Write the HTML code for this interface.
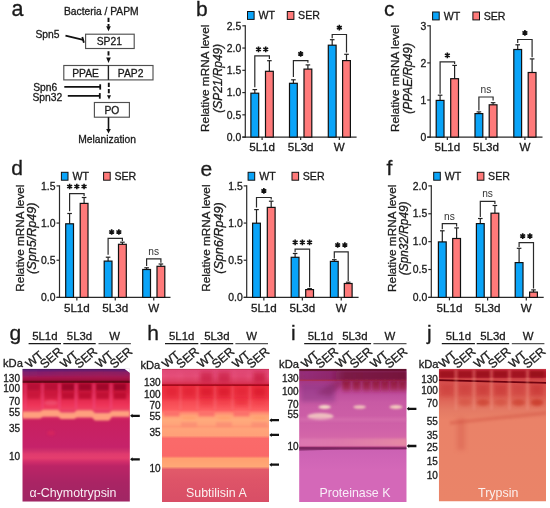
<!DOCTYPE html>
<html><head><meta charset="utf-8"><style>
html,body{margin:0;padding:0;background:#fff;}
svg{display:block;filter:blur(0.3px);}
text{font-family:"Liberation Sans", sans-serif;}
text.k{stroke:#1a1a1a;stroke-width:0.3px;}
</style></head><body>
<svg width="550" height="508" viewBox="0 0 550 508">
<defs><filter id="bl05" x="-20%" y="-50%" width="140%" height="200%"><feGaussianBlur stdDeviation="0.5"/></filter><filter id="bl1" x="-50%" y="-50%" width="200%" height="200%"><feGaussianBlur stdDeviation="0.9"/></filter><filter id="bl15" x="-50%" y="-50%" width="200%" height="200%"><feGaussianBlur stdDeviation="1.4"/></filter><filter id="bl2" x="-50%" y="-50%" width="200%" height="200%"><feGaussianBlur stdDeviation="2"/></filter><clipPath id="cG"><rect x="22.3" y="368.7" width="107.60000000000001" height="133.0"/></clipPath><linearGradient id="gG" gradientUnits="userSpaceOnUse" x1="0" y1="368.7" x2="0" y2="501.7"><stop offset="0.0000" stop-color="#3a1050"/><stop offset="0.0120" stop-color="#6a1a68"/><stop offset="0.0286" stop-color="#941a58"/><stop offset="0.0624" stop-color="#a81850"/><stop offset="0.0865" stop-color="#9c0e3e"/><stop offset="0.0940" stop-color="#640818"/><stop offset="0.1030" stop-color="#640818"/><stop offset="0.1105" stop-color="#c81640"/><stop offset="0.1752" stop-color="#d01a40"/><stop offset="0.2353" stop-color="#e42a50"/><stop offset="0.2729" stop-color="#ee3458"/><stop offset="0.3030" stop-color="#ee4062"/><stop offset="0.3331" stop-color="#e03868"/><stop offset="0.3707" stop-color="#d02462"/><stop offset="0.3932" stop-color="#c8205f"/><stop offset="0.5887" stop-color="#c6226a"/><stop offset="0.6188" stop-color="#d0306c"/><stop offset="0.6414" stop-color="#e03a6e"/><stop offset="0.6714" stop-color="#e43e6e"/><stop offset="0.7015" stop-color="#d02c6a"/><stop offset="0.7316" stop-color="#bc2466"/><stop offset="0.8519" stop-color="#aa2464"/><stop offset="1.0000" stop-color="#a02664"/></linearGradient><linearGradient id="gGp" gradientUnits="userSpaceOnUse" x1="22.3" y1="0" x2="129.9" y2="0"><stop offset="0.0000" stop-color="#5a2aa0" stop-opacity="0.3"/><stop offset="0.3504" stop-color="#5a2aa0" stop-opacity="0.18"/><stop offset="0.7221" stop-color="#5a2aa0" stop-opacity="0.1"/><stop offset="1.0000" stop-color="#5a2aa0" stop-opacity="0.15"/></linearGradient><clipPath id="cH"><rect x="162.0" y="368.7" width="107.0" height="133.3"/></clipPath><linearGradient id="gH" gradientUnits="userSpaceOnUse" x1="0" y1="368.7" x2="0" y2="502.0"><stop offset="0.0000" stop-color="#b01838"/><stop offset="0.0098" stop-color="#e04a78"/><stop offset="0.0548" stop-color="#e8527e"/><stop offset="0.0923" stop-color="#e04468"/><stop offset="0.1148" stop-color="#d83050"/><stop offset="0.1200" stop-color="#a20c1c"/><stop offset="0.1260" stop-color="#a20c1c"/><stop offset="0.1320" stop-color="#ee3040"/><stop offset="0.2198" stop-color="#f03848"/><stop offset="0.2498" stop-color="#f64a54"/><stop offset="0.3098" stop-color="#fc5c60"/><stop offset="0.3323" stop-color="#ff8a72"/><stop offset="0.3548" stop-color="#ffa478"/><stop offset="0.3848" stop-color="#ffaa7c"/><stop offset="0.4149" stop-color="#ffa47a"/><stop offset="0.4336" stop-color="#ff9a76"/><stop offset="0.4524" stop-color="#ffa47a"/><stop offset="0.5011" stop-color="#ffa078"/><stop offset="0.5236" stop-color="#fa6a6a"/><stop offset="0.6549" stop-color="#fa6868"/><stop offset="0.6737" stop-color="#ffa070"/><stop offset="0.7337" stop-color="#ffa876"/><stop offset="0.7562" stop-color="#e25a6a"/><stop offset="0.8350" stop-color="#de5468"/><stop offset="1.0000" stop-color="#d84e66"/></linearGradient><clipPath id="cI"><rect x="299.1" y="368.7" width="107.59999999999997" height="133.3"/></clipPath><linearGradient id="gI" gradientUnits="userSpaceOnUse" x1="0" y1="368.7" x2="0" y2="502.0"><stop offset="0.0000" stop-color="#581028"/><stop offset="0.0143" stop-color="#6a1838"/><stop offset="0.0218" stop-color="#983080"/><stop offset="0.0773" stop-color="#963078"/><stop offset="0.0863" stop-color="#b03050"/><stop offset="0.0960" stop-color="#a83a88"/><stop offset="0.1748" stop-color="#bc4c9c"/><stop offset="0.2498" stop-color="#c85aa4"/><stop offset="0.4599" stop-color="#d062a8"/><stop offset="0.5784" stop-color="#d86aa8"/><stop offset="0.5859" stop-color="#b04080"/><stop offset="0.5926" stop-color="#8e2c6c"/><stop offset="0.6017" stop-color="#8e2c6c"/><stop offset="0.6099" stop-color="#cc62b4"/><stop offset="0.7599" stop-color="#d468b8"/><stop offset="1.0000" stop-color="#d468b8"/></linearGradient><linearGradient id="gIr" gradientUnits="userSpaceOnUse" x1="299.1" y1="0" x2="406.7" y2="0"><stop offset="0.0000" stop-color="#701030" stop-opacity="0.05"/><stop offset="0.2872" stop-color="#701030" stop-opacity="0.2"/><stop offset="0.4266" stop-color="#701030" stop-opacity="0.7"/><stop offset="1.0000" stop-color="#701030" stop-opacity="0.85"/></linearGradient><linearGradient id="gIb" x1="0" y1="0" x2="0" y2="1"><stop offset="0" stop-color="#8a1232" stop-opacity="0.95"/><stop offset="0.6" stop-color="#9a1a3a" stop-opacity="0.7"/><stop offset="1" stop-color="#a02040" stop-opacity="0"/></linearGradient><linearGradient id="gIl" gradientUnits="userSpaceOnUse" x1="299.1" y1="0" x2="406.7" y2="0"><stop offset="0.0000" stop-color="#e890c0" stop-opacity="0.35"/><stop offset="0.3801" stop-color="#e890b0" stop-opacity="0.4"/><stop offset="1.0000" stop-color="#f0a0a0" stop-opacity="0.6"/></linearGradient><clipPath id="cJ"><rect x="438.8" y="368.7" width="107.19999999999999" height="132.8"/></clipPath><linearGradient id="gJ" gradientUnits="userSpaceOnUse" x1="0" y1="368.7" x2="0" y2="501.5"><stop offset="0.0000" stop-color="#d04050"/><stop offset="0.0120" stop-color="#c02838"/><stop offset="0.0248" stop-color="#b41c2c"/><stop offset="0.0625" stop-color="#b01a2a"/><stop offset="0.0730" stop-color="#d04448"/><stop offset="0.0821" stop-color="#d04448"/><stop offset="0.1039" stop-color="#d85250"/><stop offset="0.1980" stop-color="#dc5c52"/><stop offset="0.3110" stop-color="#e47a64"/><stop offset="0.3863" stop-color="#ea8268"/><stop offset="1.0000" stop-color="#ea8468"/></linearGradient></defs>
<text class="k" x="11.5" y="15.8" font-size="21.5" text-anchor="start" fill="#1a1a1a" >a</text>
<text class="k" x="101.3" y="15.4" font-size="10.3" text-anchor="middle" fill="#1a1a1a" >Bacteria / PAPM</text>
<line x1="108.5" y1="17.8" x2="108.5" y2="26.5" stroke="#111" stroke-width="1.9" stroke-dasharray="4.2,2.1"/>
<path d="M106.2,26.3 L110.8,26.3 L108.5,31.3 Z" fill="#111"/>
<text class="k" x="35.5" y="37.9" font-size="10.3" text-anchor="start" fill="#1a1a1a" >Spn5</text>
<line x1="65.5" y1="35.6" x2="83.2" y2="39.9" stroke="#111" stroke-width="1.8" />
<line x1="82.3" y1="36.9" x2="83.9" y2="42.8" stroke="#111" stroke-width="1.8" />
<rect x="85.6" y="34.2" width="48.6" height="14.3" fill="none" stroke="#505050" stroke-width="1.15"/>
<text class="k" x="109.3" y="45.4" font-size="10.3" text-anchor="middle" fill="#1a1a1a" >SP21</text>
<line x1="108.5" y1="51.2" x2="108.5" y2="57.6" stroke="#111" stroke-width="1.9" stroke-dasharray="4.2,2.1"/>
<path d="M106.2,57.6 L110.8,57.6 L108.5,63.0 Z" fill="#111"/>
<rect x="63.8" y="65.5" width="89.2" height="14.4" fill="none" stroke="#505050" stroke-width="1.15"/>
<line x1="108.4" y1="65.5" x2="108.4" y2="79.9" stroke="#222" stroke-width="1.4" />
<text class="k" x="85.6" y="77.4" font-size="10.3" text-anchor="middle" fill="#1a1a1a" >PPAE</text>
<text class="k" x="130.6" y="77.4" font-size="10.3" text-anchor="middle" fill="#1a1a1a" >PAP2</text>
<text class="k" x="33.2" y="90.6" font-size="10.3" text-anchor="start" fill="#1a1a1a" >Spn6</text>
<text class="k" x="32.5" y="101.0" font-size="10.3" text-anchor="start" fill="#1a1a1a" >Spn32</text>
<line x1="64.3" y1="86.8" x2="100.2" y2="86.8" stroke="#111" stroke-width="1.8" />
<line x1="100.2" y1="84.3" x2="100.2" y2="89.6" stroke="#111" stroke-width="1.8" />
<line x1="67.8" y1="95.8" x2="99.8" y2="95.8" stroke="#111" stroke-width="1.8" />
<line x1="99.8" y1="93.1" x2="99.8" y2="98.7" stroke="#111" stroke-width="1.8" />
<line x1="108.8" y1="82.8" x2="108.8" y2="95.3" stroke="#111" stroke-width="1.9" stroke-dasharray="4.2,2.1"/>
<path d="M107.0,95.3 L111.0,95.3 L109.0,99.5 Z" fill="#111"/>
<rect x="94.4" y="102.5" width="35" height="14.7" fill="none" stroke="#505050" stroke-width="1.15"/>
<text class="k" x="111.9" y="114.2" font-size="10.3" text-anchor="middle" fill="#1a1a1a" >PO</text>
<line x1="108.5" y1="117.2" x2="108.5" y2="129.5" stroke="#111" stroke-width="1.6" />
<path d="M106.2,129.0 L110.8,129.0 L108.5,133.4 Z" fill="#111"/>
<text class="k" x="107.1" y="143.0" font-size="10.3" text-anchor="middle" fill="#1a1a1a" >Melanization</text>
<text class="k" x="196.0" y="15.6" font-size="21" text-anchor="start" fill="#1a1a1a" >b</text>
<rect x="247.5" y="11.5" width="6.6" height="7.9" fill="#0aa4f8" stroke="#111" stroke-width="1"/>
<text class="k" x="258.6" y="19.1" font-size="10.6" text-anchor="start" fill="#1a1a1a" >WT</text>
<rect x="287.3" y="11.5" width="6.6" height="7.9" fill="#ff7a7a" stroke="#111" stroke-width="1"/>
<text class="k" x="298.1" y="19.1" font-size="10.6" text-anchor="start" fill="#1a1a1a" >SER</text>
<text transform="translate(208.8,78.3) rotate(-90)" font-size="11.78" text-anchor="middle" fill="#1a1a1a" class="k">Relative mRNA level</text>
<text transform="translate(221.7,78.3) rotate(-90)" font-size="11.9" text-anchor="middle" fill="#1a1a1a" class="k" font-style="italic">(SP21/Rp49)</text>
<line x1="245.3" y1="25.2" x2="245.3" y2="137.7" stroke="#2a2a2a" stroke-width="1.2" />
<line x1="242.3" y1="137.1" x2="356.6" y2="137.1" stroke="#2a2a2a" stroke-width="1.2" />
<line x1="242.3" y1="137.1" x2="245.3" y2="137.1" stroke="#2a2a2a" stroke-width="1.2" />
<text class="k" x="241.3" y="140.79999999999998" font-size="10.4" text-anchor="end" fill="#1a1a1a" >0.0</text>
<line x1="242.3" y1="114.84" x2="245.3" y2="114.84" stroke="#2a2a2a" stroke-width="1.2" />
<text class="k" x="241.3" y="118.54" font-size="10.4" text-anchor="end" fill="#1a1a1a" >0.5</text>
<line x1="242.3" y1="92.58" x2="245.3" y2="92.58" stroke="#2a2a2a" stroke-width="1.2" />
<text class="k" x="241.3" y="96.28" font-size="10.4" text-anchor="end" fill="#1a1a1a" >1.0</text>
<line x1="242.3" y1="70.32" x2="245.3" y2="70.32" stroke="#2a2a2a" stroke-width="1.2" />
<text class="k" x="241.3" y="74.02" font-size="10.4" text-anchor="end" fill="#1a1a1a" >1.5</text>
<line x1="242.3" y1="48.06" x2="245.3" y2="48.06" stroke="#2a2a2a" stroke-width="1.2" />
<text class="k" x="241.3" y="51.760000000000005" font-size="10.4" text-anchor="end" fill="#1a1a1a" >2.0</text>
<line x1="242.3" y1="25.799999999999997" x2="245.3" y2="25.799999999999997" stroke="#2a2a2a" stroke-width="1.2" />
<text class="k" x="241.3" y="29.499999999999996" font-size="10.4" text-anchor="end" fill="#1a1a1a" >2.5</text>
<line x1="254.8" y1="93.2" x2="254.8" y2="89.6" stroke="#222" stroke-width="1.2" />
<line x1="252.5" y1="89.6" x2="257.1" y2="89.6" stroke="#222" stroke-width="1.2" />
<rect x="250.9" y="93.2" width="7.8" height="43.89999999999999" fill="#0aa4f8" stroke="#111" stroke-width="1.2"/>
<line x1="269.4" y1="71.3" x2="269.4" y2="60.7" stroke="#222" stroke-width="1.2" />
<line x1="267.09999999999997" y1="60.7" x2="271.7" y2="60.7" stroke="#222" stroke-width="1.2" />
<rect x="265.5" y="71.3" width="7.8" height="65.8" fill="#ff7a7a" stroke="#111" stroke-width="1.2"/>
<line x1="262.1" y1="137.1" x2="262.1" y2="140.1" stroke="#2a2a2a" stroke-width="1.2" />
<text class="k" x="262.1" y="151.4" font-size="11.6" text-anchor="middle" fill="#1a1a1a" >5L1d</text>
<path d="M254.8,87.2 L254.8,55.9 L269.4,55.9 L269.4,58.9" fill="none" stroke="#2a2a2a" stroke-width="1.2"/>
<path d="M258.50,52.15L258.50,46.45M256.03,50.72L260.97,47.88M260.97,50.72L256.03,47.88" stroke="#111" stroke-width="1.6" fill="none"/>
<path d="M265.70,52.15L265.70,46.45M263.23,50.72L268.17,47.88M268.17,50.72L263.23,47.88" stroke="#111" stroke-width="1.6" fill="none"/>
<line x1="293.4" y1="83.3" x2="293.4" y2="79.8" stroke="#222" stroke-width="1.2" />
<line x1="291.09999999999997" y1="79.8" x2="295.7" y2="79.8" stroke="#222" stroke-width="1.2" />
<rect x="289.5" y="83.3" width="7.8" height="53.8" fill="#0aa4f8" stroke="#111" stroke-width="1.2"/>
<line x1="307.9" y1="69.1" x2="307.9" y2="64.9" stroke="#222" stroke-width="1.2" />
<line x1="305.59999999999997" y1="64.9" x2="310.2" y2="64.9" stroke="#222" stroke-width="1.2" />
<rect x="304.0" y="69.1" width="7.8" height="68.0" fill="#ff7a7a" stroke="#111" stroke-width="1.2"/>
<line x1="300.65" y1="137.1" x2="300.65" y2="140.1" stroke="#2a2a2a" stroke-width="1.2" />
<text class="k" x="300.65" y="151.4" font-size="11.6" text-anchor="middle" fill="#1a1a1a" >5L3d</text>
<path d="M293.4,77.0 L293.4,60.6 L307.9,60.6 L307.9,62.8" fill="none" stroke="#2a2a2a" stroke-width="1.2"/>
<path d="M300.65,56.75L300.65,51.05M298.18,55.32L303.12,52.48M303.12,55.32L298.18,52.48" stroke="#111" stroke-width="1.6" fill="none"/>
<line x1="332.2" y1="45.2" x2="332.2" y2="39.7" stroke="#222" stroke-width="1.2" />
<line x1="329.9" y1="39.7" x2="334.5" y2="39.7" stroke="#222" stroke-width="1.2" />
<rect x="328.3" y="45.2" width="7.8" height="91.89999999999999" fill="#0aa4f8" stroke="#111" stroke-width="1.2"/>
<line x1="346.5" y1="60.6" x2="346.5" y2="54.3" stroke="#222" stroke-width="1.2" />
<line x1="344.2" y1="54.3" x2="348.8" y2="54.3" stroke="#222" stroke-width="1.2" />
<rect x="342.6" y="60.6" width="7.8" height="76.5" fill="#ff7a7a" stroke="#111" stroke-width="1.2"/>
<line x1="339.35" y1="137.1" x2="339.35" y2="140.1" stroke="#2a2a2a" stroke-width="1.2" />
<text class="k" x="339.35" y="151.4" font-size="11.6" text-anchor="middle" fill="#1a1a1a" >W</text>
<path d="M332.2,38.2 L332.2,34.5 L346.5,34.5 L346.5,52.6" fill="none" stroke="#2a2a2a" stroke-width="1.2"/>
<path d="M339.35,30.55L339.35,24.85M336.88,29.12L341.82,26.27M341.82,29.12L336.88,26.27" stroke="#111" stroke-width="1.6" fill="none"/>
<text class="k" x="384.0" y="15.6" font-size="21" text-anchor="start" fill="#1a1a1a" >c</text>
<rect x="432.6" y="12.0" width="6.6" height="7.9" fill="#0aa4f8" stroke="#111" stroke-width="1"/>
<text class="k" x="443.70000000000005" y="19.6" font-size="10.6" text-anchor="start" fill="#1a1a1a" >WT</text>
<rect x="472.9" y="12.0" width="6.6" height="7.9" fill="#ff7a7a" stroke="#111" stroke-width="1"/>
<text class="k" x="483.7" y="19.6" font-size="10.6" text-anchor="start" fill="#1a1a1a" >SER</text>
<text transform="translate(398.9,78.4) rotate(-90)" font-size="11.78" text-anchor="middle" fill="#1a1a1a" class="k">Relative mRNA level</text>
<text transform="translate(411.7,78.4) rotate(-90)" font-size="11.9" text-anchor="middle" fill="#1a1a1a" class="k" font-style="italic">(PPAE/Rp49)</text>
<line x1="430.2" y1="25.2" x2="430.2" y2="137.7" stroke="#2a2a2a" stroke-width="1.2" />
<line x1="427.2" y1="137.1" x2="542.5" y2="137.1" stroke="#2a2a2a" stroke-width="1.2" />
<line x1="427.2" y1="137.1" x2="430.2" y2="137.1" stroke="#2a2a2a" stroke-width="1.2" />
<text class="k" x="426.2" y="140.79999999999998" font-size="10.4" text-anchor="end" fill="#1a1a1a" >0</text>
<line x1="427.2" y1="100.0" x2="430.2" y2="100.0" stroke="#2a2a2a" stroke-width="1.2" />
<text class="k" x="426.2" y="103.7" font-size="10.4" text-anchor="end" fill="#1a1a1a" >1</text>
<line x1="427.2" y1="62.89999999999999" x2="430.2" y2="62.89999999999999" stroke="#2a2a2a" stroke-width="1.2" />
<text class="k" x="426.2" y="66.6" font-size="10.4" text-anchor="end" fill="#1a1a1a" >2</text>
<line x1="427.2" y1="25.799999999999997" x2="430.2" y2="25.799999999999997" stroke="#2a2a2a" stroke-width="1.2" />
<text class="k" x="426.2" y="29.499999999999996" font-size="10.4" text-anchor="end" fill="#1a1a1a" >3</text>
<line x1="440.1" y1="100.4" x2="440.1" y2="95.2" stroke="#222" stroke-width="1.2" />
<line x1="437.8" y1="95.2" x2="442.40000000000003" y2="95.2" stroke="#222" stroke-width="1.2" />
<rect x="436.20000000000005" y="100.4" width="7.8" height="36.69999999999999" fill="#0aa4f8" stroke="#111" stroke-width="1.2"/>
<line x1="454.6" y1="78.7" x2="454.6" y2="65.4" stroke="#222" stroke-width="1.2" />
<line x1="452.3" y1="65.4" x2="456.90000000000003" y2="65.4" stroke="#222" stroke-width="1.2" />
<rect x="450.70000000000005" y="78.7" width="7.8" height="58.39999999999999" fill="#ff7a7a" stroke="#111" stroke-width="1.2"/>
<line x1="447.35" y1="137.1" x2="447.35" y2="140.1" stroke="#2a2a2a" stroke-width="1.2" />
<text class="k" x="447.35" y="151.4" font-size="11.6" text-anchor="middle" fill="#1a1a1a" >5L1d</text>
<path d="M440.1,93.8 L440.1,61.9 L454.6,61.9 L454.6,64.0" fill="none" stroke="#2a2a2a" stroke-width="1.2"/>
<path d="M447.35,58.15L447.35,52.45M444.88,56.72L449.82,53.88M449.82,56.72L444.88,53.88" stroke="#111" stroke-width="1.6" fill="none"/>
<line x1="478.9" y1="113.6" x2="478.9" y2="111.9" stroke="#222" stroke-width="1.2" />
<line x1="476.59999999999997" y1="111.9" x2="481.2" y2="111.9" stroke="#222" stroke-width="1.2" />
<rect x="475.0" y="113.6" width="7.8" height="23.5" fill="#0aa4f8" stroke="#111" stroke-width="1.2"/>
<line x1="493.1" y1="104.8" x2="493.1" y2="102.7" stroke="#222" stroke-width="1.2" />
<line x1="490.8" y1="102.7" x2="495.40000000000003" y2="102.7" stroke="#222" stroke-width="1.2" />
<rect x="489.20000000000005" y="104.8" width="7.8" height="32.3" fill="#ff7a7a" stroke="#111" stroke-width="1.2"/>
<line x1="486.0" y1="137.1" x2="486.0" y2="140.1" stroke="#2a2a2a" stroke-width="1.2" />
<text class="k" x="486.0" y="151.4" font-size="11.6" text-anchor="middle" fill="#1a1a1a" >5L3d</text>
<path d="M478.9,110.6 L478.9,97.0 L493.1,97.0 L493.1,100.5" fill="none" stroke="#2a2a2a" stroke-width="1.2"/>
<text x="486.0" y="92.8" font-size="10.2" text-anchor="middle" fill="#333" >ns</text>
<line x1="517.7" y1="49.5" x2="517.7" y2="44.8" stroke="#222" stroke-width="1.2" />
<line x1="515.4000000000001" y1="44.8" x2="520.0" y2="44.8" stroke="#222" stroke-width="1.2" />
<rect x="513.8000000000001" y="49.5" width="7.8" height="87.6" fill="#0aa4f8" stroke="#111" stroke-width="1.2"/>
<line x1="532.1" y1="72.5" x2="532.1" y2="58.9" stroke="#222" stroke-width="1.2" />
<line x1="529.8000000000001" y1="58.9" x2="534.4" y2="58.9" stroke="#222" stroke-width="1.2" />
<rect x="528.2" y="72.5" width="7.8" height="64.6" fill="#ff7a7a" stroke="#111" stroke-width="1.2"/>
<line x1="524.9000000000001" y1="137.1" x2="524.9000000000001" y2="140.1" stroke="#2a2a2a" stroke-width="1.2" />
<text class="k" x="524.9000000000001" y="151.4" font-size="11.6" text-anchor="middle" fill="#1a1a1a" >W</text>
<path d="M517.7,43.0 L517.7,39.5 L532.1,39.5 L532.1,57.2" fill="none" stroke="#2a2a2a" stroke-width="1.2"/>
<path d="M524.90,35.75L524.90,30.05M522.43,34.32L527.37,31.47M527.37,34.32L522.43,31.47" stroke="#111" stroke-width="1.6" fill="none"/>
<text class="k" x="11.3" y="175.0" font-size="21" text-anchor="start" fill="#1a1a1a" >d</text>
<rect x="61.4" y="172.3" width="6.6" height="7.9" fill="#0aa4f8" stroke="#111" stroke-width="1"/>
<text class="k" x="72.5" y="179.9" font-size="10.6" text-anchor="start" fill="#1a1a1a" >WT</text>
<rect x="103.6" y="172.3" width="6.6" height="7.9" fill="#ff7a7a" stroke="#111" stroke-width="1"/>
<text class="k" x="114.39999999999999" y="179.9" font-size="10.6" text-anchor="start" fill="#1a1a1a" >SER</text>
<text transform="translate(23.5,238.2) rotate(-90)" font-size="11.78" text-anchor="middle" fill="#1a1a1a" class="k">Relative mRNA level</text>
<text transform="translate(36.1,238.2) rotate(-90)" font-size="12.6" text-anchor="middle" fill="#1a1a1a" class="k" font-style="italic">(Spn5/Rp49)</text>
<line x1="59.5" y1="185.3" x2="59.5" y2="298.0" stroke="#2a2a2a" stroke-width="1.2" />
<line x1="56.5" y1="297.4" x2="170.5" y2="297.4" stroke="#2a2a2a" stroke-width="1.2" />
<line x1="56.5" y1="297.4" x2="59.5" y2="297.4" stroke="#2a2a2a" stroke-width="1.2" />
<text class="k" x="55.5" y="301.09999999999997" font-size="10.4" text-anchor="end" fill="#1a1a1a" >0.0</text>
<line x1="56.5" y1="260.23333333333335" x2="59.5" y2="260.23333333333335" stroke="#2a2a2a" stroke-width="1.2" />
<text class="k" x="55.5" y="263.93333333333334" font-size="10.4" text-anchor="end" fill="#1a1a1a" >0.5</text>
<line x1="56.5" y1="223.06666666666666" x2="59.5" y2="223.06666666666666" stroke="#2a2a2a" stroke-width="1.2" />
<text class="k" x="55.5" y="226.76666666666665" font-size="10.4" text-anchor="end" fill="#1a1a1a" >1.0</text>
<line x1="56.5" y1="185.90000000000003" x2="59.5" y2="185.90000000000003" stroke="#2a2a2a" stroke-width="1.2" />
<text class="k" x="55.5" y="189.60000000000002" font-size="10.4" text-anchor="end" fill="#1a1a1a" >1.5</text>
<line x1="69.6" y1="223.8" x2="69.6" y2="213.5" stroke="#222" stroke-width="1.2" />
<line x1="67.3" y1="213.5" x2="71.89999999999999" y2="213.5" stroke="#222" stroke-width="1.2" />
<rect x="65.69999999999999" y="223.8" width="7.8" height="73.59999999999997" fill="#0aa4f8" stroke="#111" stroke-width="1.2"/>
<line x1="84.1" y1="203.4" x2="84.1" y2="197.5" stroke="#222" stroke-width="1.2" />
<line x1="81.8" y1="197.5" x2="86.39999999999999" y2="197.5" stroke="#222" stroke-width="1.2" />
<rect x="80.19999999999999" y="203.4" width="7.8" height="93.99999999999997" fill="#ff7a7a" stroke="#111" stroke-width="1.2"/>
<line x1="76.85" y1="297.4" x2="76.85" y2="300.4" stroke="#2a2a2a" stroke-width="1.2" />
<text class="k" x="76.85" y="311.7" font-size="11.6" text-anchor="middle" fill="#1a1a1a" >5L1d</text>
<path d="M69.6,211.3 L69.6,193.6 L84.1,193.6 L84.1,196.1" fill="none" stroke="#2a2a2a" stroke-width="1.2"/>
<path d="M69.65,189.35L69.65,183.65M67.18,187.93L72.12,185.07M72.12,187.93L67.18,185.07" stroke="#111" stroke-width="1.6" fill="none"/>
<path d="M76.85,189.35L76.85,183.65M74.38,187.93L79.32,185.07M79.32,187.93L74.38,185.07" stroke="#111" stroke-width="1.6" fill="none"/>
<path d="M84.05,189.35L84.05,183.65M81.58,187.93L86.52,185.07M86.52,187.93L81.58,185.07" stroke="#111" stroke-width="1.6" fill="none"/>
<line x1="108.1" y1="261.1" x2="108.1" y2="257.2" stroke="#222" stroke-width="1.2" />
<line x1="105.8" y1="257.2" x2="110.39999999999999" y2="257.2" stroke="#222" stroke-width="1.2" />
<rect x="104.19999999999999" y="261.1" width="7.8" height="36.299999999999955" fill="#0aa4f8" stroke="#111" stroke-width="1.2"/>
<line x1="122.4" y1="244.3" x2="122.4" y2="242.2" stroke="#222" stroke-width="1.2" />
<line x1="120.10000000000001" y1="242.2" x2="124.7" y2="242.2" stroke="#222" stroke-width="1.2" />
<rect x="118.5" y="244.3" width="7.8" height="53.099999999999966" fill="#ff7a7a" stroke="#111" stroke-width="1.2"/>
<line x1="115.25" y1="297.4" x2="115.25" y2="300.4" stroke="#2a2a2a" stroke-width="1.2" />
<text class="k" x="115.25" y="311.7" font-size="11.6" text-anchor="middle" fill="#1a1a1a" >5L3d</text>
<path d="M108.1,254.8 L108.1,238.3 L122.4,238.3 L122.4,241.0" fill="none" stroke="#2a2a2a" stroke-width="1.2"/>
<path d="M111.65,234.85L111.65,229.15M109.18,233.43L114.12,230.57M114.12,233.43L109.18,230.57" stroke="#111" stroke-width="1.6" fill="none"/>
<path d="M118.85,234.85L118.85,229.15M116.38,233.43L121.32,230.57M121.32,233.43L116.38,230.57" stroke="#111" stroke-width="1.6" fill="none"/>
<line x1="146.6" y1="269.5" x2="146.6" y2="267.8" stroke="#222" stroke-width="1.2" />
<line x1="144.29999999999998" y1="267.8" x2="148.9" y2="267.8" stroke="#222" stroke-width="1.2" />
<rect x="142.7" y="269.5" width="7.8" height="27.899999999999977" fill="#0aa4f8" stroke="#111" stroke-width="1.2"/>
<line x1="160.9" y1="266.3" x2="160.9" y2="264.0" stroke="#222" stroke-width="1.2" />
<line x1="158.6" y1="264.0" x2="163.20000000000002" y2="264.0" stroke="#222" stroke-width="1.2" />
<rect x="157.0" y="266.3" width="7.8" height="31.099999999999966" fill="#ff7a7a" stroke="#111" stroke-width="1.2"/>
<line x1="153.75" y1="297.4" x2="153.75" y2="300.4" stroke="#2a2a2a" stroke-width="1.2" />
<text class="k" x="153.75" y="311.7" font-size="11.6" text-anchor="middle" fill="#1a1a1a" >W</text>
<path d="M146.6,265.9 L146.6,258.8 L160.9,258.8 L160.9,262.8" fill="none" stroke="#2a2a2a" stroke-width="1.2"/>
<text x="153.75" y="254.5" font-size="10.2" text-anchor="middle" fill="#333" >ns</text>
<text class="k" x="200.5" y="175.5" font-size="21" text-anchor="start" fill="#1a1a1a" >e</text>
<rect x="248.1" y="172.3" width="6.6" height="7.9" fill="#0aa4f8" stroke="#111" stroke-width="1"/>
<text class="k" x="259.2" y="179.9" font-size="10.6" text-anchor="start" fill="#1a1a1a" >WT</text>
<rect x="292.0" y="172.3" width="6.6" height="7.9" fill="#ff7a7a" stroke="#111" stroke-width="1"/>
<text class="k" x="302.8" y="179.9" font-size="10.6" text-anchor="start" fill="#1a1a1a" >SER</text>
<text transform="translate(210.3,238.1) rotate(-90)" font-size="11.78" text-anchor="middle" fill="#1a1a1a" class="k">Relative mRNA level</text>
<text transform="translate(223.1,238.1) rotate(-90)" font-size="12.6" text-anchor="middle" fill="#1a1a1a" class="k" font-style="italic">(Spn6/Rp49)</text>
<line x1="246.7" y1="185.3" x2="246.7" y2="298.0" stroke="#2a2a2a" stroke-width="1.2" />
<line x1="243.7" y1="297.4" x2="358.6" y2="297.4" stroke="#2a2a2a" stroke-width="1.2" />
<line x1="243.7" y1="297.4" x2="246.7" y2="297.4" stroke="#2a2a2a" stroke-width="1.2" />
<text class="k" x="242.7" y="301.09999999999997" font-size="10.4" text-anchor="end" fill="#1a1a1a" >0.0</text>
<line x1="243.7" y1="260.23333333333335" x2="246.7" y2="260.23333333333335" stroke="#2a2a2a" stroke-width="1.2" />
<text class="k" x="242.7" y="263.93333333333334" font-size="10.4" text-anchor="end" fill="#1a1a1a" >0.5</text>
<line x1="243.7" y1="223.06666666666666" x2="246.7" y2="223.06666666666666" stroke="#2a2a2a" stroke-width="1.2" />
<text class="k" x="242.7" y="226.76666666666665" font-size="10.4" text-anchor="end" fill="#1a1a1a" >1.0</text>
<line x1="243.7" y1="185.90000000000003" x2="246.7" y2="185.90000000000003" stroke="#2a2a2a" stroke-width="1.2" />
<text class="k" x="242.7" y="189.60000000000002" font-size="10.4" text-anchor="end" fill="#1a1a1a" >1.5</text>
<line x1="256.5" y1="223.2" x2="256.5" y2="209.6" stroke="#222" stroke-width="1.2" />
<line x1="254.2" y1="209.6" x2="258.8" y2="209.6" stroke="#222" stroke-width="1.2" />
<rect x="252.6" y="223.2" width="7.8" height="74.19999999999999" fill="#0aa4f8" stroke="#111" stroke-width="1.2"/>
<line x1="271.2" y1="207.4" x2="271.2" y2="201.2" stroke="#222" stroke-width="1.2" />
<line x1="268.9" y1="201.2" x2="273.5" y2="201.2" stroke="#222" stroke-width="1.2" />
<rect x="267.3" y="207.4" width="7.8" height="89.99999999999997" fill="#ff7a7a" stroke="#111" stroke-width="1.2"/>
<line x1="263.85" y1="297.4" x2="263.85" y2="300.4" stroke="#2a2a2a" stroke-width="1.2" />
<text class="k" x="263.85" y="311.7" font-size="11.6" text-anchor="middle" fill="#1a1a1a" >5L1d</text>
<path d="M256.5,207.4 L256.5,197.5 L271.2,197.5 L271.2,199.5" fill="none" stroke="#2a2a2a" stroke-width="1.2"/>
<path d="M263.85,193.75L263.85,188.05M261.38,192.33L266.32,189.47M266.32,192.33L261.38,189.47" stroke="#111" stroke-width="1.6" fill="none"/>
<line x1="295.1" y1="257.3" x2="295.1" y2="253.5" stroke="#222" stroke-width="1.2" />
<line x1="292.8" y1="253.5" x2="297.40000000000003" y2="253.5" stroke="#222" stroke-width="1.2" />
<rect x="291.20000000000005" y="257.3" width="7.8" height="40.099999999999966" fill="#0aa4f8" stroke="#111" stroke-width="1.2"/>
<line x1="309.6" y1="289.6" x2="309.6" y2="288.6" stroke="#222" stroke-width="1.2" />
<line x1="307.3" y1="288.6" x2="311.90000000000003" y2="288.6" stroke="#222" stroke-width="1.2" />
<rect x="305.70000000000005" y="289.6" width="7.8" height="7.7999999999999545" fill="#ff7a7a" stroke="#111" stroke-width="1.2"/>
<line x1="302.35" y1="297.4" x2="302.35" y2="300.4" stroke="#2a2a2a" stroke-width="1.2" />
<text class="k" x="302.35" y="311.7" font-size="11.6" text-anchor="middle" fill="#1a1a1a" >5L3d</text>
<path d="M295.1,252.2 L295.1,249.1 L309.6,249.1 L309.6,287.2" fill="none" stroke="#2a2a2a" stroke-width="1.2"/>
<path d="M295.15,245.15L295.15,239.45M292.68,243.73L297.62,240.88M297.62,243.73L292.68,240.88" stroke="#111" stroke-width="1.6" fill="none"/>
<path d="M302.35,245.15L302.35,239.45M299.88,243.73L304.82,240.88M304.82,243.73L299.88,240.88" stroke="#111" stroke-width="1.6" fill="none"/>
<path d="M309.55,245.15L309.55,239.45M307.08,243.73L312.02,240.88M312.02,243.73L307.08,240.88" stroke="#111" stroke-width="1.6" fill="none"/>
<line x1="334.3" y1="261.4" x2="334.3" y2="259.7" stroke="#222" stroke-width="1.2" />
<line x1="332.0" y1="259.7" x2="336.6" y2="259.7" stroke="#222" stroke-width="1.2" />
<rect x="330.40000000000003" y="261.4" width="7.8" height="36.0" fill="#0aa4f8" stroke="#111" stroke-width="1.2"/>
<line x1="348.2" y1="283.5" x2="348.2" y2="282.2" stroke="#222" stroke-width="1.2" />
<line x1="345.9" y1="282.2" x2="350.5" y2="282.2" stroke="#222" stroke-width="1.2" />
<rect x="344.3" y="283.5" width="7.8" height="13.899999999999977" fill="#ff7a7a" stroke="#111" stroke-width="1.2"/>
<line x1="341.25" y1="297.4" x2="341.25" y2="300.4" stroke="#2a2a2a" stroke-width="1.2" />
<text class="k" x="341.25" y="311.7" font-size="11.6" text-anchor="middle" fill="#1a1a1a" >W</text>
<path d="M334.3,258.4 L334.3,251.8 L348.2,251.8 L348.2,281.0" fill="none" stroke="#2a2a2a" stroke-width="1.2"/>
<path d="M337.65,247.85L337.65,242.15M335.18,246.43L340.12,243.57M340.12,246.43L335.18,243.57" stroke="#111" stroke-width="1.6" fill="none"/>
<path d="M344.85,247.85L344.85,242.15M342.38,246.43L347.32,243.57M347.32,246.43L342.38,243.57" stroke="#111" stroke-width="1.6" fill="none"/>
<text class="k" x="386.5" y="175.0" font-size="21" text-anchor="start" fill="#1a1a1a" >f</text>
<rect x="433.7" y="172.3" width="6.6" height="7.9" fill="#0aa4f8" stroke="#111" stroke-width="1"/>
<text class="k" x="444.8" y="179.9" font-size="10.6" text-anchor="start" fill="#1a1a1a" >WT</text>
<rect x="477.3" y="172.3" width="6.6" height="7.9" fill="#ff7a7a" stroke="#111" stroke-width="1"/>
<text class="k" x="488.1" y="179.9" font-size="10.6" text-anchor="start" fill="#1a1a1a" >SER</text>
<text transform="translate(395.6,238.3) rotate(-90)" font-size="11.78" text-anchor="middle" fill="#1a1a1a" class="k">Relative mRNA level</text>
<text transform="translate(408.3,238.3) rotate(-90)" font-size="11.85" text-anchor="middle" fill="#1a1a1a" class="k" font-style="italic">(Spn32/Rp49)</text>
<line x1="431.3" y1="185.3" x2="431.3" y2="298.0" stroke="#2a2a2a" stroke-width="1.2" />
<line x1="428.3" y1="297.4" x2="543.7" y2="297.4" stroke="#2a2a2a" stroke-width="1.2" />
<line x1="428.3" y1="297.4" x2="431.3" y2="297.4" stroke="#2a2a2a" stroke-width="1.2" />
<text class="k" x="427.3" y="301.09999999999997" font-size="10.4" text-anchor="end" fill="#1a1a1a" >0.0</text>
<line x1="428.3" y1="269.525" x2="431.3" y2="269.525" stroke="#2a2a2a" stroke-width="1.2" />
<text class="k" x="427.3" y="273.22499999999997" font-size="10.4" text-anchor="end" fill="#1a1a1a" >0.5</text>
<line x1="428.3" y1="241.64999999999998" x2="431.3" y2="241.64999999999998" stroke="#2a2a2a" stroke-width="1.2" />
<text class="k" x="427.3" y="245.34999999999997" font-size="10.4" text-anchor="end" fill="#1a1a1a" >1.0</text>
<line x1="428.3" y1="213.775" x2="431.3" y2="213.775" stroke="#2a2a2a" stroke-width="1.2" />
<text class="k" x="427.3" y="217.475" font-size="10.4" text-anchor="end" fill="#1a1a1a" >1.5</text>
<line x1="428.3" y1="185.9" x2="431.3" y2="185.9" stroke="#2a2a2a" stroke-width="1.2" />
<text class="k" x="427.3" y="189.6" font-size="10.4" text-anchor="end" fill="#1a1a1a" >2.0</text>
<line x1="442.3" y1="241.9" x2="442.3" y2="230.8" stroke="#222" stroke-width="1.2" />
<line x1="440.0" y1="230.8" x2="444.6" y2="230.8" stroke="#222" stroke-width="1.2" />
<rect x="438.40000000000003" y="241.9" width="7.8" height="55.49999999999997" fill="#0aa4f8" stroke="#111" stroke-width="1.2"/>
<line x1="456.6" y1="238.5" x2="456.6" y2="227.9" stroke="#222" stroke-width="1.2" />
<line x1="454.3" y1="227.9" x2="458.90000000000003" y2="227.9" stroke="#222" stroke-width="1.2" />
<rect x="452.70000000000005" y="238.5" width="7.8" height="58.89999999999998" fill="#ff7a7a" stroke="#111" stroke-width="1.2"/>
<line x1="449.45000000000005" y1="297.4" x2="449.45000000000005" y2="300.4" stroke="#2a2a2a" stroke-width="1.2" />
<text class="k" x="449.45000000000005" y="311.7" font-size="11.6" text-anchor="middle" fill="#1a1a1a" >5L1d</text>
<path d="M442.3,229.2 L442.3,223.6 L456.6,223.6 L456.6,226.6" fill="none" stroke="#2a2a2a" stroke-width="1.2"/>
<text x="449.45000000000005" y="219.9" font-size="10.2" text-anchor="middle" fill="#333" >ns</text>
<line x1="480.3" y1="223.6" x2="480.3" y2="218.5" stroke="#222" stroke-width="1.2" />
<line x1="478.0" y1="218.5" x2="482.6" y2="218.5" stroke="#222" stroke-width="1.2" />
<rect x="476.40000000000003" y="223.6" width="7.8" height="73.79999999999998" fill="#0aa4f8" stroke="#111" stroke-width="1.2"/>
<line x1="494.9" y1="213.2" x2="494.9" y2="205.5" stroke="#222" stroke-width="1.2" />
<line x1="492.59999999999997" y1="205.5" x2="497.2" y2="205.5" stroke="#222" stroke-width="1.2" />
<rect x="491.0" y="213.2" width="7.8" height="84.19999999999999" fill="#ff7a7a" stroke="#111" stroke-width="1.2"/>
<line x1="487.6" y1="297.4" x2="487.6" y2="300.4" stroke="#2a2a2a" stroke-width="1.2" />
<text class="k" x="487.6" y="311.7" font-size="11.6" text-anchor="middle" fill="#1a1a1a" >5L3d</text>
<path d="M480.3,217.0 L480.3,201.4 L494.9,201.4 L494.9,204.0" fill="none" stroke="#2a2a2a" stroke-width="1.2"/>
<text x="487.6" y="197.2" font-size="10.2" text-anchor="middle" fill="#333" >ns</text>
<line x1="519.1" y1="262.6" x2="519.1" y2="248.3" stroke="#222" stroke-width="1.2" />
<line x1="516.8000000000001" y1="248.3" x2="521.4" y2="248.3" stroke="#222" stroke-width="1.2" />
<rect x="515.2" y="262.6" width="7.8" height="34.799999999999955" fill="#0aa4f8" stroke="#111" stroke-width="1.2"/>
<line x1="533.5" y1="292.1" x2="533.5" y2="289.9" stroke="#222" stroke-width="1.2" />
<line x1="531.2" y1="289.9" x2="535.8" y2="289.9" stroke="#222" stroke-width="1.2" />
<rect x="529.6" y="292.1" width="7.8" height="5.2999999999999545" fill="#ff7a7a" stroke="#111" stroke-width="1.2"/>
<line x1="526.3" y1="297.4" x2="526.3" y2="300.4" stroke="#2a2a2a" stroke-width="1.2" />
<text class="k" x="526.3" y="311.7" font-size="11.6" text-anchor="middle" fill="#1a1a1a" >W</text>
<path d="M519.1,247.0 L519.1,242.7 L533.5,242.7 L533.5,288.4" fill="none" stroke="#2a2a2a" stroke-width="1.2"/>
<path d="M522.70,238.95L522.70,233.25M520.23,237.53L525.17,234.67M525.17,237.53L520.23,234.67" stroke="#111" stroke-width="1.6" fill="none"/>
<path d="M529.90,238.95L529.90,233.25M527.43,237.53L532.37,234.67M532.37,237.53L527.43,234.67" stroke="#111" stroke-width="1.6" fill="none"/>
<g clip-path="url(#cG)">
<rect x="22.3" y="368.7" width="107.60000000000001" height="133.0" fill="url(#gG)"/>
<rect x="22.3" y="369.2" width="107.60000000000001" height="7" fill="url(#gGp)" filter="url(#bl1)"/>
<rect x="27.25" y="383.5" width="12.5" height="7.0" fill="#900020" opacity="0.35" filter="url(#bl1)"/>
<rect x="44.75" y="383.5" width="12.5" height="7.0" fill="#900020" opacity="0.3" filter="url(#bl1)"/>
<rect x="61.75" y="383.5" width="12.5" height="7.0" fill="#900020" opacity="0.75" filter="url(#bl1)"/>
<rect x="78.75" y="383.5" width="12.5" height="7.0" fill="#900020" opacity="0.75" filter="url(#bl1)"/>
<rect x="96.25" y="383.5" width="12.5" height="7.0" fill="#900020" opacity="0.7" filter="url(#bl1)"/>
<rect x="113.75" y="383.5" width="12.5" height="7.0" fill="#900020" opacity="0.8" filter="url(#bl1)"/>
<rect x="27.25" y="392.5" width="12.5" height="6.5" fill="#a80020" opacity="0.3" filter="url(#bl1)"/>
<rect x="44.75" y="392.5" width="12.5" height="6.5" fill="#a80020" opacity="0.25" filter="url(#bl1)"/>
<rect x="61.75" y="392.5" width="12.5" height="6.5" fill="#a80020" opacity="0.55" filter="url(#bl1)"/>
<rect x="78.75" y="392.5" width="12.5" height="6.5" fill="#a80020" opacity="0.55" filter="url(#bl1)"/>
<rect x="96.25" y="392.5" width="12.5" height="6.5" fill="#a80020" opacity="0.5" filter="url(#bl1)"/>
<rect x="113.75" y="392.5" width="12.5" height="6.5" fill="#a80020" opacity="0.6" filter="url(#bl1)"/>
<rect x="24.1" y="383.5" width="2.4" height="25.5" fill="#f04880" opacity="0.55" filter="url(#bl1)"/>
<rect x="41.199999999999996" y="383.5" width="2.4" height="25.5" fill="#f04880" opacity="0.55" filter="url(#bl1)"/>
<rect x="58.3" y="383.5" width="2.4" height="25.5" fill="#f04880" opacity="0.55" filter="url(#bl1)"/>
<rect x="74.8" y="383.5" width="2.4" height="25.5" fill="#f04880" opacity="0.55" filter="url(#bl1)"/>
<rect x="92.8" y="383.5" width="2.4" height="25.5" fill="#f04880" opacity="0.55" filter="url(#bl1)"/>
<rect x="109.8" y="383.5" width="2.4" height="25.5" fill="#f04880" opacity="0.55" filter="url(#bl1)"/>
<path d="M22.3,411.4 L22.3,411.4 L40,411.4 L43,409.7 L58,409.7 L61,412.4 L74,412.4 L77,410.3 L92,410.3 L95,413 L109,413 L112,410.8 L129.9,410.8 L129.9,416.8 L112,416.8 L109,420.6 L95,420.6 L92,417.4 L77,417.4 L74,419 L61,419 L58,416.8 L43,416.8 L40,418.4 L22.3,418.4 Z" fill="#ffa07e" filter="url(#bl1)"/>
<ellipse cx="51" cy="403" rx="7" ry="2.5" fill="#f05878" opacity="0.6" filter="url(#bl1)"/>
<ellipse cx="51" cy="433" rx="4" ry="2.5" fill="#e02858" opacity="0.5" filter="url(#bl1)"/>
<path d="M124,368.5 L130,368.5 L130,373 Z" fill="#fff" filter="url(#bl05)"/>
</g>
<g clip-path="url(#cH)">
<rect x="162.0" y="368.7" width="107.0" height="133.3" fill="url(#gH)"/>
<rect x="165.0" y="372" width="13" height="11" fill="#c01030" opacity="0.05" filter="url(#bl2)"/>
<rect x="182.5" y="372" width="13" height="11" fill="#c01030" opacity="0.1" filter="url(#bl2)"/>
<rect x="200.0" y="372" width="13" height="11" fill="#c01030" opacity="0.55" filter="url(#bl2)"/>
<rect x="217.5" y="372" width="13" height="11" fill="#c01030" opacity="0.55" filter="url(#bl2)"/>
<rect x="235.0" y="372" width="13" height="11" fill="#c01030" opacity="0.15" filter="url(#bl2)"/>
<rect x="253.0" y="372" width="13" height="11" fill="#c01030" opacity="0.6" filter="url(#bl2)"/>
<rect x="165.0" y="387" width="13" height="10" fill="#d01020" opacity="0.35" filter="url(#bl2)"/>
<rect x="182.5" y="387" width="13" height="10" fill="#d01020" opacity="0.35" filter="url(#bl2)"/>
<rect x="200.0" y="387" width="13" height="10" fill="#d01020" opacity="0.55" filter="url(#bl2)"/>
<rect x="217.5" y="387" width="13" height="10" fill="#d01020" opacity="0.55" filter="url(#bl2)"/>
<rect x="235.0" y="387" width="13" height="10" fill="#d01020" opacity="0.3" filter="url(#bl2)"/>
<rect x="253.0" y="387" width="13" height="10" fill="#d01020" opacity="0.55" filter="url(#bl2)"/>
<rect x="200.0" y="399" width="13" height="6" fill="#e01828" opacity="0.3" filter="url(#bl2)"/>
<rect x="217.5" y="399" width="13" height="6" fill="#e01828" opacity="0.2" filter="url(#bl2)"/>
<rect x="235.0" y="399" width="13" height="6" fill="#e01828" opacity="0.45" filter="url(#bl2)"/>
<rect x="253.0" y="399" width="13" height="6" fill="#e01828" opacity="0.2" filter="url(#bl2)"/>
<rect x="179.4" y="386" width="2.2" height="24" fill="#f88088" opacity="0.3" filter="url(#bl1)"/>
<rect x="196.4" y="386" width="2.2" height="24" fill="#f88088" opacity="0.3" filter="url(#bl1)"/>
<rect x="213.9" y="386" width="2.2" height="24" fill="#f88088" opacity="0.3" filter="url(#bl1)"/>
<rect x="231.4" y="386" width="2.2" height="24" fill="#f88088" opacity="0.3" filter="url(#bl1)"/>
<rect x="248.9" y="386" width="2.2" height="24" fill="#f88088" opacity="0.3" filter="url(#bl1)"/>
<rect x="163.5" y="411" width="16" height="5.5" fill="#fc6a6a" opacity="0.8" filter="url(#bl1)"/>
<rect x="198.5" y="411" width="16" height="5.5" fill="#fc6a6a" opacity="0.8" filter="url(#bl1)"/>
<rect x="233.5" y="411" width="16" height="5.5" fill="#fc6a6a" opacity="0.8" filter="url(#bl1)"/>
<ellipse cx="189" cy="418" rx="7" ry="1.6" fill="#ff9c66" opacity="0.6" filter="url(#bl1)"/>
<rect x="181" y="422" width="16" height="5" fill="#f88070" opacity="0.45" filter="url(#bl1)"/>
<ellipse cx="224" cy="418" rx="7" ry="1.6" fill="#ff9c66" opacity="0.6" filter="url(#bl1)"/>
<rect x="216" y="422" width="16" height="5" fill="#f88070" opacity="0.45" filter="url(#bl1)"/>
<ellipse cx="259.5" cy="418" rx="7" ry="1.6" fill="#ff9c66" opacity="0.6" filter="url(#bl1)"/>
<rect x="251.5" y="422" width="16" height="5" fill="#f88070" opacity="0.45" filter="url(#bl1)"/>
</g>
<g clip-path="url(#cI)">
<rect x="299.1" y="368.7" width="107.59999999999997" height="133.3" fill="url(#gI)"/>
<rect x="299.1" y="370.8" width="107.59999999999997" height="9.5" fill="url(#gIr)" filter="url(#bl1)"/>
<path d="M316,393 L336,381 L346,381 L330,396 Z" fill="#8a1e50" opacity="0.55" filter="url(#bl2)"/>
<rect x="342.3" y="380.5" width="8.4" height="13" fill="url(#gIb)" filter="url(#bl15)"/>
<rect x="352.3" y="380.5" width="8.4" height="13" fill="url(#gIb)" filter="url(#bl15)"/>
<rect x="362.3" y="380.5" width="8.4" height="13" fill="url(#gIb)" filter="url(#bl15)"/>
<rect x="371.8" y="380.5" width="8.4" height="13" fill="url(#gIb)" filter="url(#bl15)"/>
<rect x="380.8" y="380.5" width="8.4" height="13" fill="url(#gIb)" filter="url(#bl15)"/>
<rect x="389.8" y="380.5" width="8.4" height="13" fill="url(#gIb)" filter="url(#bl15)"/>
<rect x="398.3" y="380.5" width="8.4" height="13" fill="url(#gIb)" filter="url(#bl15)"/>
<rect x="301" y="384" width="34" height="18" fill="#7a3080" opacity="0.4" filter="url(#bl2)"/>
<ellipse cx="324.7" cy="407.0" rx="6.2" ry="1.9" fill="#f8e0c8" opacity="0.95" filter="url(#bl1)"/>
<ellipse cx="359.6" cy="407.0" rx="6.2" ry="1.7" fill="#f8d8c0" opacity="0.85" filter="url(#bl1)"/>
<ellipse cx="396" cy="407.0" rx="6.5" ry="1.9" fill="#f8d8c0" opacity="0.9" filter="url(#bl1)"/>
<ellipse cx="320.5" cy="416.4" rx="13" ry="3.4" fill="#f4d0c4" opacity="0.85" filter="url(#bl1)"/>
<rect x="299.1" y="438.5" width="107.59999999999997" height="7.5" fill="url(#gIl)" filter="url(#bl1)"/>
<rect x="299.1" y="417.5" width="107.59999999999997" height="4" fill="#e080b8" opacity="0.35" filter="url(#bl1)"/>
<path d="M299.1,447.0 L340,447.4 L406.7,447.7 L406.7,448.9 L340,449.6 L299.1,450.8 Z" fill="#702058" opacity="0.6" filter="url(#bl05)"/>
</g>
<g clip-path="url(#cJ)">
<rect x="438.8" y="368.7" width="107.19999999999999" height="132.8" fill="url(#gJ)"/>
<rect x="440.0" y="371" width="14" height="6.5" fill="#900818" opacity="0.55" filter="url(#bl1)"/>
<rect x="458.0" y="371" width="14" height="6.5" fill="#900818" opacity="0.5" filter="url(#bl1)"/>
<rect x="476.0" y="371" width="14" height="6.5" fill="#900818" opacity="0.6" filter="url(#bl1)"/>
<rect x="493.5" y="371" width="14" height="6.5" fill="#900818" opacity="0.6" filter="url(#bl1)"/>
<rect x="511.5" y="371" width="14" height="6.5" fill="#900818" opacity="0.45" filter="url(#bl1)"/>
<rect x="530.0" y="371" width="14" height="6.5" fill="#900818" opacity="0.7" filter="url(#bl1)"/>
<path d="M438.8,379.3 L546.0,382.0 L546.0,383.8 L438.8,380.9 Z" fill="#680010" filter="url(#bl05)"/>
<rect x="440.5" y="384" width="13" height="12" fill="#c02828" opacity="0.35" filter="url(#bl2)"/>
<rect x="458.5" y="384" width="13" height="12" fill="#c02828" opacity="0.35" filter="url(#bl2)"/>
<rect x="476.5" y="384" width="13" height="12" fill="#c02828" opacity="0.45" filter="url(#bl2)"/>
<rect x="494.0" y="384" width="13" height="12" fill="#c02828" opacity="0.45" filter="url(#bl2)"/>
<rect x="512.0" y="384" width="13" height="12" fill="#c02828" opacity="0.3" filter="url(#bl2)"/>
<rect x="530.5" y="384" width="13" height="12" fill="#c02828" opacity="0.5" filter="url(#bl2)"/>
<rect x="454.5" y="370" width="3.0" height="40" fill="#f09888" opacity="0.35" filter="url(#bl1)"/>
<rect x="472.5" y="370" width="3.0" height="40" fill="#f09888" opacity="0.35" filter="url(#bl1)"/>
<rect x="490.0" y="370" width="3.0" height="40" fill="#f09888" opacity="0.35" filter="url(#bl1)"/>
<rect x="508.0" y="370" width="3.0" height="40" fill="#f09888" opacity="0.35" filter="url(#bl1)"/>
<rect x="526.0" y="370" width="3.0" height="40" fill="#f09888" opacity="0.35" filter="url(#bl1)"/>
<ellipse cx="465" cy="402.5" rx="6.5" ry="3.5" fill="#c83828" opacity="0.3" filter="url(#bl15)"/>
<ellipse cx="483" cy="402.5" rx="6.5" ry="3.5" fill="#c83828" opacity="0.6" filter="url(#bl15)"/>
<ellipse cx="500.5" cy="402.5" rx="6.5" ry="3.5" fill="#c83828" opacity="0.35" filter="url(#bl15)"/>
<ellipse cx="518.5" cy="402.5" rx="6.5" ry="3.5" fill="#c83828" opacity="0.6" filter="url(#bl15)"/>
<ellipse cx="537" cy="402.5" rx="6.5" ry="3.5" fill="#c83828" opacity="0.8" filter="url(#bl15)"/>
<rect x="457" y="418" width="8" height="32" fill="#d86050" opacity="0.5" filter="url(#bl2)"/>
<path d="M450,423 L546,413" stroke="#d05040" stroke-width="4" opacity="0.35" filter="url(#bl1)"/>
</g>
<text class="k" x="9.6" y="339.5" font-size="21" text-anchor="start" fill="#1a1a1a" >g</text>
<line x1="28.6" y1="343.7" x2="61.0" y2="343.7" stroke="#1a1a1a" stroke-width="1.3" />
<text class="k" x="44.8" y="340.0" font-size="11.4" text-anchor="middle" fill="#1a1a1a" >5L1d</text>
<line x1="63.3" y1="343.7" x2="95.7" y2="343.7" stroke="#1a1a1a" stroke-width="1.3" />
<text class="k" x="79.5" y="340.0" font-size="11.4" text-anchor="middle" fill="#1a1a1a" >5L3d</text>
<line x1="98.5" y1="343.7" x2="130.9" y2="343.7" stroke="#555" stroke-width="1.3" />
<text class="k" x="114.7" y="340.0" font-size="11.4" text-anchor="middle" fill="#1a1a1a" >W</text>
<text transform="translate(29.8,368.6) rotate(-40)" font-size="12" fill="#1a1a1a" class="k">WT</text>
<text transform="translate(44.400000000000006,369.1) rotate(-41)" font-size="12.2" fill="#1a1a1a" class="k">SER</text>
<text transform="translate(64.5,368.6) rotate(-40)" font-size="12" fill="#1a1a1a" class="k">WT</text>
<text transform="translate(79.1,369.1) rotate(-41)" font-size="12.2" fill="#1a1a1a" class="k">SER</text>
<text transform="translate(99.7,368.6) rotate(-40)" font-size="12" fill="#1a1a1a" class="k">WT</text>
<text transform="translate(114.3,369.1) rotate(-41)" font-size="12.2" fill="#1a1a1a" class="k">SER</text>
<text class="k" x="22.9" y="366.8" font-size="11.2" text-anchor="end" fill="#1a1a1a" >kDa</text>
<text class="k" x="147.3" y="340.0" font-size="21" text-anchor="start" fill="#1a1a1a" >h</text>
<line x1="165.0" y1="343.7" x2="198.3" y2="343.7" stroke="#1a1a1a" stroke-width="1.3" />
<text class="k" x="181.65" y="340.0" font-size="11.4" text-anchor="middle" fill="#1a1a1a" >5L1d</text>
<line x1="200.4" y1="343.7" x2="233.2" y2="343.7" stroke="#1a1a1a" stroke-width="1.3" />
<text class="k" x="216.8" y="340.0" font-size="11.4" text-anchor="middle" fill="#1a1a1a" >5L3d</text>
<line x1="235.4" y1="343.7" x2="268.0" y2="343.7" stroke="#555" stroke-width="1.3" />
<text class="k" x="251.7" y="340.0" font-size="11.4" text-anchor="middle" fill="#1a1a1a" >W</text>
<text transform="translate(166.2,368.6) rotate(-40)" font-size="12" fill="#1a1a1a" class="k">WT</text>
<text transform="translate(180.8,369.1) rotate(-41)" font-size="12.2" fill="#1a1a1a" class="k">SER</text>
<text transform="translate(201.6,368.6) rotate(-40)" font-size="12" fill="#1a1a1a" class="k">WT</text>
<text transform="translate(216.20000000000002,369.1) rotate(-41)" font-size="12.2" fill="#1a1a1a" class="k">SER</text>
<text transform="translate(236.6,368.6) rotate(-40)" font-size="12" fill="#1a1a1a" class="k">WT</text>
<text transform="translate(251.20000000000002,369.1) rotate(-41)" font-size="12.2" fill="#1a1a1a" class="k">SER</text>
<text class="k" x="160.3" y="369.2" font-size="11.2" text-anchor="end" fill="#1a1a1a" >kDa</text>
<text class="k" x="291.0" y="340.0" font-size="21" text-anchor="start" fill="#1a1a1a" >i</text>
<line x1="304.2" y1="343.7" x2="336.5" y2="343.7" stroke="#1a1a1a" stroke-width="1.3" />
<text class="k" x="320.35" y="340.0" font-size="11.4" text-anchor="middle" fill="#1a1a1a" >5L1d</text>
<line x1="338.5" y1="343.7" x2="371.1" y2="343.7" stroke="#1a1a1a" stroke-width="1.3" />
<text class="k" x="354.8" y="340.0" font-size="11.4" text-anchor="middle" fill="#1a1a1a" >5L3d</text>
<line x1="373.4" y1="343.7" x2="406.5" y2="343.7" stroke="#555" stroke-width="1.3" />
<text class="k" x="389.95" y="340.0" font-size="11.4" text-anchor="middle" fill="#1a1a1a" >W</text>
<text transform="translate(305.4,368.6) rotate(-40)" font-size="12" fill="#1a1a1a" class="k">WT</text>
<text transform="translate(320.0,369.1) rotate(-41)" font-size="12.2" fill="#1a1a1a" class="k">SER</text>
<text transform="translate(339.7,368.6) rotate(-40)" font-size="12" fill="#1a1a1a" class="k">WT</text>
<text transform="translate(354.3,369.1) rotate(-41)" font-size="12.2" fill="#1a1a1a" class="k">SER</text>
<text transform="translate(374.59999999999997,368.6) rotate(-40)" font-size="12" fill="#1a1a1a" class="k">WT</text>
<text transform="translate(389.2,369.1) rotate(-41)" font-size="12.2" fill="#1a1a1a" class="k">SER</text>
<text class="k" x="299.0" y="368.3" font-size="11.2" text-anchor="end" fill="#1a1a1a" >kDa</text>
<text class="k" x="427.0" y="340.0" font-size="21" text-anchor="start" fill="#1a1a1a" >j</text>
<line x1="441.8" y1="343.7" x2="474.9" y2="343.7" stroke="#1a1a1a" stroke-width="1.3" />
<text class="k" x="458.35" y="340.0" font-size="11.4" text-anchor="middle" fill="#1a1a1a" >5L1d</text>
<line x1="476.7" y1="343.7" x2="509.2" y2="343.7" stroke="#1a1a1a" stroke-width="1.3" />
<text class="k" x="492.95" y="340.0" font-size="11.4" text-anchor="middle" fill="#1a1a1a" >5L3d</text>
<line x1="511.8" y1="343.7" x2="544.4" y2="343.7" stroke="#555" stroke-width="1.3" />
<text class="k" x="528.1" y="340.0" font-size="11.4" text-anchor="middle" fill="#1a1a1a" >W</text>
<text transform="translate(443.0,368.6) rotate(-40)" font-size="12" fill="#1a1a1a" class="k">WT</text>
<text transform="translate(457.6,369.1) rotate(-41)" font-size="12.2" fill="#1a1a1a" class="k">SER</text>
<text transform="translate(477.9,368.6) rotate(-40)" font-size="12" fill="#1a1a1a" class="k">WT</text>
<text transform="translate(492.5,369.1) rotate(-41)" font-size="12.2" fill="#1a1a1a" class="k">SER</text>
<text transform="translate(513.0,368.6) rotate(-40)" font-size="12" fill="#1a1a1a" class="k">WT</text>
<text transform="translate(527.6,369.1) rotate(-41)" font-size="12.2" fill="#1a1a1a" class="k">SER</text>
<text class="k" x="438.6" y="368.3" font-size="11.2" text-anchor="end" fill="#1a1a1a" >kDa</text>
<text class="k" x="20.0" y="381.8" font-size="10" text-anchor="end" fill="#1a1a1a" >130</text>
<text class="k" x="20.0" y="392.4" font-size="10" text-anchor="end" fill="#1a1a1a" >100</text>
<text class="k" x="20.0" y="405.2" font-size="10" text-anchor="end" fill="#1a1a1a" >70</text>
<text class="k" x="20.0" y="416.2" font-size="10" text-anchor="end" fill="#1a1a1a" >55</text>
<text class="k" x="20.0" y="432.0" font-size="10" text-anchor="end" fill="#1a1a1a" >35</text>
<text class="k" x="20.0" y="460.2" font-size="10" text-anchor="end" fill="#1a1a1a" >10</text>
<text class="k" x="160.6" y="385.5" font-size="10" text-anchor="end" fill="#1a1a1a" >130</text>
<text class="k" x="160.6" y="397.6" font-size="10" text-anchor="end" fill="#1a1a1a" >100</text>
<text class="k" x="160.6" y="409.3" font-size="10" text-anchor="end" fill="#1a1a1a" >70</text>
<text class="k" x="160.6" y="420.3" font-size="10" text-anchor="end" fill="#1a1a1a" >55</text>
<text class="k" x="160.6" y="436.3" font-size="10" text-anchor="end" fill="#1a1a1a" >35</text>
<text class="k" x="160.6" y="472.1" font-size="10" text-anchor="end" fill="#1a1a1a" >10</text>
<text class="k" x="298.6" y="381.8" font-size="10" text-anchor="end" fill="#1a1a1a" >130</text>
<text class="k" x="298.6" y="395.2" font-size="10" text-anchor="end" fill="#1a1a1a" >100</text>
<text class="k" x="298.6" y="407.5" font-size="10" text-anchor="end" fill="#1a1a1a" >70</text>
<text class="k" x="298.6" y="418.0" font-size="10" text-anchor="end" fill="#1a1a1a" >55</text>
<text class="k" x="298.6" y="449.6" font-size="10" text-anchor="end" fill="#1a1a1a" >10</text>
<text class="k" x="437.9" y="383.3" font-size="10" text-anchor="end" fill="#1a1a1a" >130</text>
<text class="k" x="437.9" y="394.4" font-size="10" text-anchor="end" fill="#1a1a1a" >100</text>
<text class="k" x="437.9" y="407.2" font-size="10" text-anchor="end" fill="#1a1a1a" >70</text>
<text class="k" x="437.9" y="424.6" font-size="10" text-anchor="end" fill="#1a1a1a" >55</text>
<text class="k" x="437.9" y="439.2" font-size="10" text-anchor="end" fill="#1a1a1a" >35</text>
<text class="k" x="437.9" y="450.9" font-size="10" text-anchor="end" fill="#1a1a1a" >25</text>
<text class="k" x="437.9" y="464.8" font-size="10" text-anchor="end" fill="#1a1a1a" >15</text>
<text class="k" x="437.9" y="478.8" font-size="10" text-anchor="end" fill="#1a1a1a" >10</text>
<path d="M130.1,415.8 L132.5,413.8 L132.5,414.65000000000003 L139.79999999999998,414.65000000000003 L139.79999999999998,416.95 L132.5,416.95 L132.5,417.8 Z" fill="#111"/>
<path d="M130.1,459.3 L132.5,457.3 L132.5,458.15000000000003 L139.79999999999998,458.15000000000003 L139.79999999999998,460.45 L132.5,460.45 L132.5,461.3 Z" fill="#111"/>
<path d="M269.3,420.2 L271.7,418.2 L271.7,419.05 L279.0,419.05 L279.0,421.34999999999997 L271.7,421.34999999999997 L271.7,422.2 Z" fill="#111"/>
<path d="M269.3,434.9 L271.7,432.9 L271.7,433.75 L279.0,433.75 L279.0,436.04999999999995 L271.7,436.04999999999995 L271.7,436.9 Z" fill="#111"/>
<path d="M269.3,464.7 L271.7,462.7 L271.7,463.55 L279.0,463.55 L279.0,465.84999999999997 L271.7,465.84999999999997 L271.7,466.7 Z" fill="#111"/>
<path d="M406.7,408.8 L409.09999999999997,406.8 L409.09999999999997,407.65000000000003 L416.4,407.65000000000003 L416.4,409.95 L409.09999999999997,409.95 L409.09999999999997,410.8 Z" fill="#111"/>
<path d="M406.7,446.0 L409.09999999999997,444.0 L409.09999999999997,444.85 L416.4,444.85 L416.4,447.15 L409.09999999999997,447.15 L409.09999999999997,448.0 Z" fill="#111"/>
<text x="73.0" y="496.8" font-size="12.4" text-anchor="middle" fill="#f8eef4" >α-Chymotrypsin</text>
<text x="216.4" y="496.6" font-size="12.4" text-anchor="middle" fill="#fbf0f0" >Subtilisin A</text>
<text x="355.0" y="496.6" font-size="12.4" text-anchor="middle" fill="#f8eef8" >Proteinase K</text>
<text x="498.2" y="496.6" font-size="12.4" text-anchor="middle" fill="#fbf0ee" >Trypsin</text>
</svg>
</body></html>
